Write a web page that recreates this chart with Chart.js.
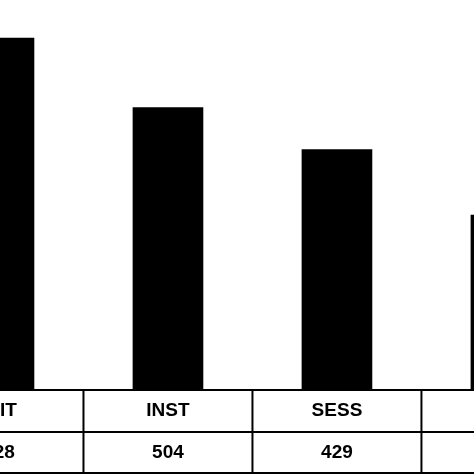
<!DOCTYPE html><html><head><style>html,body{margin:0;background:#fff}#w{width:474px;height:474px}</style>
<script src="https://cdn.jsdelivr.net/npm/chart.js@4"></script></head><body><div id="w"><canvas id="c"></canvas></div>
<script>
const categories=["INIT","INST","SESS","ALL"];
const values=[628,504,429,312];
const tableRow=["628","504","429","312"];
const tablePlugin={id:'tbl',afterDraw(ch){const c=ch.ctx,x=ch.scales.x,y=ch.scales.y;const t=y.getPixelForValue(0),m=t+42,b=t+83;
c.save();c.strokeStyle='#000';c.lineWidth=2;c.beginPath();
c.moveTo(0,t);c.lineTo(474,t);c.moveTo(0,m);c.lineTo(474,m);c.moveTo(0,b);c.lineTo(474,b);
for(let i=0;i<categories.length;i++){const px=x.getPixelForValue(i+0.5);c.moveTo(px,t);c.lineTo(px,b);}
c.stroke();c.fillStyle='#000';c.font='bold 19px "Liberation Sans", Arial';c.textAlign='center';c.textBaseline='middle';
categories.forEach((n,i)=>{const px=x.getPixelForValue(i);c.fillText(n,px,(t+m)/2);c.fillText(tableRow[i],px,(m+b)/2);});
c.restore();}};
new Chart(document.getElementById('c'),{type:'bar',data:{datasets:[{data:categories.map((n,i)=>({x:i,y:values[i]})),backgroundColor:'#000',barThickness:70}]},
options:{responsive:true,maintainAspectRatio:false,animation:false,layout:{padding:{left:0,right:0,top:0,bottom:84}},
plugins:{legend:{display:false},tooltip:{enabled:false}},
scales:{x:{type:'linear',offset:false,bounds:'ticks',min:0.006,max:2.811,display:false},y:{min:0,max:696,display:false}}},plugins:[tablePlugin]});
</script></body></html>
